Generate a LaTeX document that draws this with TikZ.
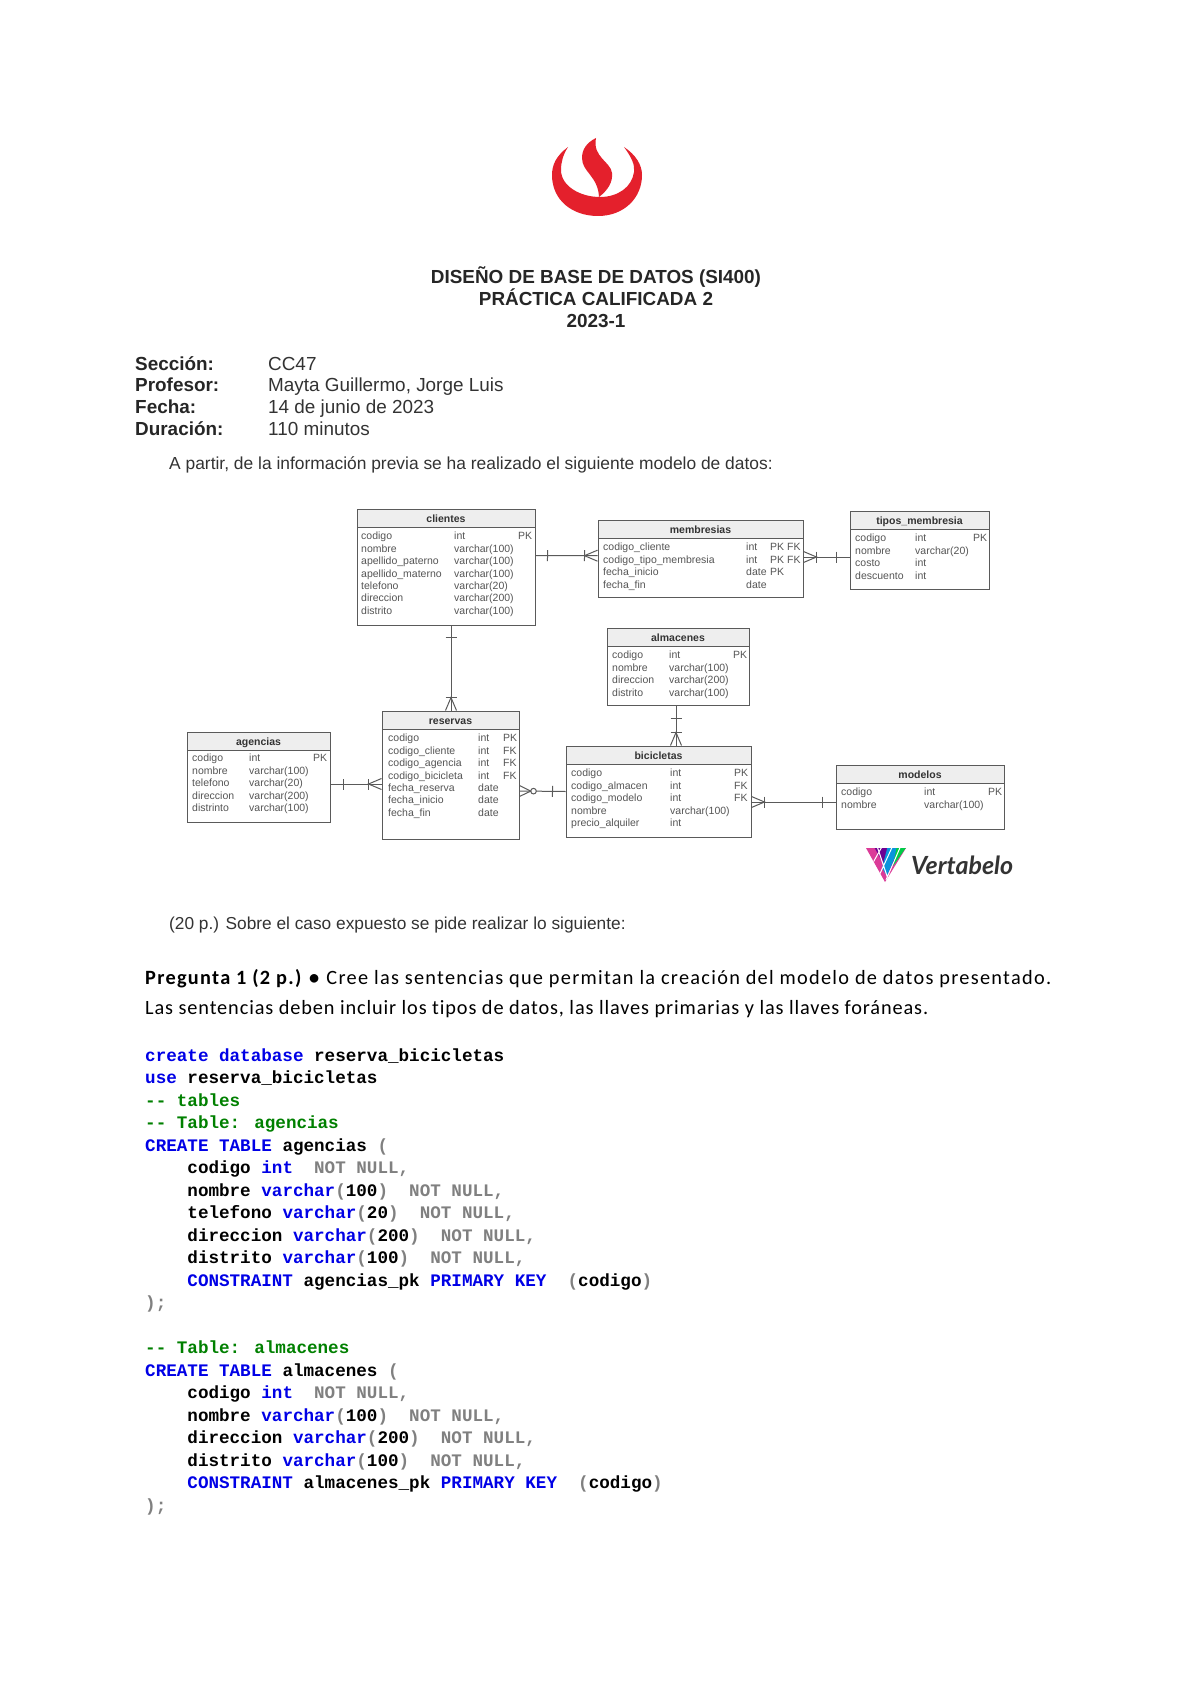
\documentclass[tikz,border=0pt]{standalone}
\usepackage{fontspec}
\usepackage{xcolor}
\usepackage{tikz}
\usetikzlibrary{decorations.markings}
\setmainfont{Liberation Sans}
\newfontfamily\bodyfont[Ligatures=NoCommon]{Carlito}
\newfontfamily\codefont{Liberation Mono}
\newfontfamily\logofont{Lato}
\definecolor{tabletext}{HTML}{555555}
\definecolor{tableline}{HTML}{5A5A5A}
\definecolor{headfill}{HTML}{EEEEEE}
\definecolor{upcred}{HTML}{E4202C}
\definecolor{sqlblue}{HTML}{0000E6}
\definecolor{sqlgreen}{HTML}{008000}
\definecolor{sqlgray}{HTML}{808080}
\newcommand{\kw}[1]{\textcolor{sqlblue}{#1}}
\newcommand{\cmt}[1]{\textcolor{sqlgreen}{#1}}
\newcommand{\nn}{\textcolor{sqlgray}{NOT NULL}}
\newcommand{\gp}[1]{\textcolor{sqlgray}{#1}}
\newcommand{\ertable}[6]{
  \node[entity, minimum width=#4pt, minimum height=#5pt] (#1) at (#2,#3) {};
  \node[entityhead, minimum width=#4pt, anchor=north] (#1-head) at (#1.north) {#6};
}
\newcommand{\erfields}[6]{
  \foreach \nm/\ty/\ke [count=\n] in {#6} {
    \node[field] (#1-name\n) at (#2,{#5+3.8+(\n-1)*12.4}) {\nm};
    \node[field] (#1-type\n) at (#3,{#5+3.8+(\n-1)*12.4}) {\ty};
    \node[field] (#1-key\n) at (#4,{#5+3.8+(\n-1)*12.4}) {\ke};
  }
}
\begin{document}
\begin{tikzpicture}[
  x=1pt, y=-1pt,
  entity/.style={draw=tableline, line width=1pt, fill=white, inner sep=0pt},
  entityhead/.style={draw=tableline, line width=1pt, fill=headfill, inner sep=0pt, minimum height=18pt, text height=8pt, text depth=0pt, font=\fontsize{10.5}{12}\selectfont\bfseries, text=black!80},
  field/.style={anchor=base west, inner sep=0pt, font=\fontsize{10.5}{12}\selectfont, text=tabletext},
  rel/.style={draw=tableline, line width=1pt},
  onemark/.style={postaction={decorate, decoration={markings,
    mark=at position #1pt with {\draw[rel] (0pt,-5.5pt) -- (0pt,5.5pt);}}}},
  manymark/.style={postaction={decorate, decoration={markings,
    mark=at position -13pt with {\draw[rel] (0pt,-5.5pt) -- (0pt,5.5pt);
      \draw[rel] (13pt,-5.5pt) -- (0pt,0pt) -- (13pt,5.5pt);}}}},
  zeromark/.style={postaction={decorate, decoration={markings,
    mark=at position -14pt with {\draw[rel, fill=white] (0pt,0pt) circle (2.8pt);
      \draw[rel] (14pt,-5.5pt) -- (2.8pt,0pt) -- (14pt,5.5pt);}}}},
  title/.style={inner sep=0pt, font=\fontsize{18.9}{22}\selectfont\bfseries, text=black!85},
  infolabel/.style={anchor=base west, inner sep=0pt, font=\fontsize{18.9}{22}\selectfont\bfseries, text=black!85},
  infotext/.style={anchor=base west, inner sep=0pt, font=\fontsize{18.9}{22}\selectfont, text=black!80},
  bodytext/.style={anchor=base west, inner sep=0pt, font=\bodyfont\fontsize{20.3}{24}\selectfont},
  codeline/.style={anchor=base west, inner sep=0pt, font=\codefont\bfseries\fontsize{17.6}{22}\selectfont}
]
\fill[white] (0,0) rectangle (1200,1696);
\useasboundingbox (0,0) rectangle (1200,1696);

\fill[upcred] (568,147) .. controls (556,156) and (552,165) .. (552,175)
  .. controls (552,200) and (572,216) .. (598,216)
  .. controls (624,216) and (642,198) .. (642,175)
  .. controls (642,165) and (636,155) .. (624,147)
  .. controls (632,158) and (635,165) .. (634,172)
  .. controls (632,187) and (618,197) .. (600,197)
  .. controls (580,197) and (561,186) .. (561,170)
  .. controls (561,162) and (563,155) .. (568,147) -- cycle;
\fill[upcred] (596,138) .. controls (586,143) and (582,150) .. (582,158)
  .. controls (582,172) and (598,176) .. (599,197)
  .. controls (608,190) and (613,182) .. (612,173)
  .. controls (611,162) and (592,157) .. (596,138) -- cycle;

\node[title] (title1) at (596,277) {DISEÑO DE BASE DE DATOS (SI400)};
\node[title] (title2) at (596,297.5) {PRÁCTICA CALIFICADA 2};
\node[title] (title3) at (596,321) {2023-1};

\foreach \n/\lab/\val in {0/Sección:/CC47, 1/Profesor:/{Mayta Guillermo, Jorge Luis}, 2/Fecha:/14 de junio de 2023, 3/Duración:/110 minutos} {
  \node[infolabel] (label\n) at (135,{370+\n*21.8}) {\lab};
  \node[infotext] (value\n) at (268,{370+\n*21.8}) {\val};
}
\node[infotext, font=\fontsize{17.4}{22}\selectfont] (intro) at (169,469) {A partir, de la información previa se ha realizado el siguiente modelo de datos:};

\ertable{clientes}{446}{567}{178}{116}{clientes}
\erfields{clientes}{361}{454}{518}{536}{codigo/int/PK, nombre/varchar(100)/, apellido\_paterno/varchar(100)/, apellido\_materno/varchar(100)/, telefono/varchar(20)/, direccion/varchar(200)/, distrito/varchar(100)/}
\ertable{membresias}{700.5}{558.5}{205}{77}{membresias}
\erfields{membresias}{603}{746}{770}{547}{codigo\_cliente/int/PK FK, codigo\_tipo\_membresia/int/PK FK, fecha\_inicio/date/PK, fecha\_fin/date/}
\ertable{tipos}{919.5}{550}{139}{78}{tipos\_membresia}
\erfields{tipos}{855}{915}{973}{538}{codigo/int/PK, nombre/varchar(20)/, costo/int/, descuento/int/}
\ertable{almacenes}{678}{666.5}{142}{77}{almacenes}
\erfields{almacenes}{612}{669}{733}{655}{codigo/int/PK, nombre/varchar(100)/, direccion/varchar(200)/, distrito/varchar(100)/}
\ertable{reservas}{450.5}{775}{137}{128}{reservas}
\erfields{reservas}{388}{478}{503}{738}{codigo/int/PK, codigo\_cliente/int/FK, codigo\_agencia/int/FK, codigo\_bicicleta/int/FK, fecha\_reserva/date/, fecha\_inicio/date/, fecha\_fin/date/}
\ertable{agencias}{258.5}{777}{143}{90}{agencias}
\erfields{agencias}{192}{249}{313}{758}{codigo/int/PK, nombre/varchar(100)/, telefono/varchar(20)/, direccion/varchar(200)/, distrinto/varchar(100)/}
\ertable{bicicletas}{658.5}{791.5}{185}{91}{bicicletas}
\erfields{bicicletas}{571}{670}{734}{773}{codigo/int/PK, codigo\_almacen/int/FK, codigo\_modelo/int/FK, nombre/varchar(100)/, precio\_alquiler/int/}
\ertable{modelos}{920}{797}{168}{64}{modelos}
\erfields{modelos}{841}{924}{988}{792}{codigo/int/PK, nombre/varchar(100)/}

\draw[rel, onemark=12, manymark] ([yshift=11.5pt]clientes.east) -- ([yshift=2.8pt]membresias.west);
\draw[rel, onemark=13, manymark] ([yshift=-7pt]tipos.west) -- ([yshift=1.5pt]membresias.east);
\draw[rel, onemark=12, manymark] ([xshift=5pt]clientes.south) -- ([xshift=0.5pt]reservas.north);
\draw[rel, onemark=13, manymark] ([xshift=-2pt]almacenes.south) -- ([xshift=17.5pt]bicicletas.north);
\draw[rel, onemark=13, manymark] ([yshift=-7pt]agencias.east) -- ([yshift=-9pt]reservas.west);
\draw[rel, onemark=13, zeromark] (bicicletas.west) -- ([yshift=-16pt]reservas.east);
\draw[rel, onemark=13, manymark] ([yshift=-5pt]modelos.west) -- ([yshift=-10.5pt]bicicletas.east);

\begin{scope}
  \clip (866,848) -- (906,848) -- (885,882) -- cycle;
  \fill[magenta!75!violet!85] (860,845) rectangle (910,885);
  \fill[violet!85!blue] (873,845) -- (889,845) -- (897,858) -- (888,872) -- cycle;
  \fill[cyan!80!blue] (888,845) -- (900,845) -- (887,876) -- (882,868) -- cycle;
  \fill[green!65!cyan!80!black] (897,845) -- (908,845) -- (893,866) -- cycle;
  \draw[white, line width=1pt] (876,843) -- (890,885) (884,843) -- (870,868) (894,843) -- (878,878) (902,843) -- (886,880);
\end{scope}
\node[anchor=base west, inner sep=0pt, font=\logofont\bfseries\itshape\fontsize{25}{28}\selectfont, text=black!80] (vertabelo) at (911,874) {Vertabelo};

\node[infotext, font=\fontsize{17.3}{22}\selectfont] (points) at (169,929) {(20 p.) Sobre el caso expuesto se pide realizar lo siguiente:};
\node[bodytext] (pregunta) at (145,984) {\addfontfeature{LetterSpace=6.35}\textbf{Pregunta 1 (2 p.) •} Cree las sentencias que permitan la creación del modelo de datos presentado.};
\node[bodytext] (pregunta2) at (145,1014) {\addfontfeature{LetterSpace=4.35}Las sentencias deben incluir los tipos de datos, las llaves primarias y las llaves foráneas.};

\foreach \n/\txt in {
  0/{\kw{create database} reserva\_bicicletas},
  1/{\kw{use} reserva\_bicicletas},
  2/{\cmt{-{}- tables}},
  3/{\cmt{-{}- Table: agencias}},
  4/{\kw{CREATE TABLE} agencias \gp{(}},
  5/{~~~~codigo \kw{int}~~\nn\gp{,}},
  6/{~~~~nombre \kw{varchar}\gp{(}100\gp{)}~~\nn\gp{,}},
  7/{~~~~telefono \kw{varchar}\gp{(}20\gp{)}~~\nn\gp{,}},
  8/{~~~~direccion \kw{varchar}\gp{(}200\gp{)}~~\nn\gp{,}},
  9/{~~~~distrito \kw{varchar}\gp{(}100\gp{)}~~\nn\gp{,}},
  10/{~~~~\kw{CONSTRAINT} agencias\_pk \kw{PRIMARY KEY}~~\gp{(}codigo\gp{)}},
  11/{\gp{);}},
  13/{\cmt{-{}- Table: almacenes}},
  14/{\kw{CREATE TABLE} almacenes \gp{(}},
  15/{~~~~codigo \kw{int}~~\nn\gp{,}},
  16/{~~~~nombre \kw{varchar}\gp{(}100\gp{)}~~\nn\gp{,}},
  17/{~~~~direccion \kw{varchar}\gp{(}200\gp{)}~~\nn\gp{,}},
  18/{~~~~distrito \kw{varchar}\gp{(}100\gp{)}~~\nn\gp{,}},
  19/{~~~~\kw{CONSTRAINT} almacenes\_pk \kw{PRIMARY KEY}~~\gp{(}codigo\gp{)}},
  20/{\gp{);}}} {
  \node[codeline] (code\n) at (145,{1061+\n*22.5}) {\txt};
}
\end{tikzpicture}
\end{document}
